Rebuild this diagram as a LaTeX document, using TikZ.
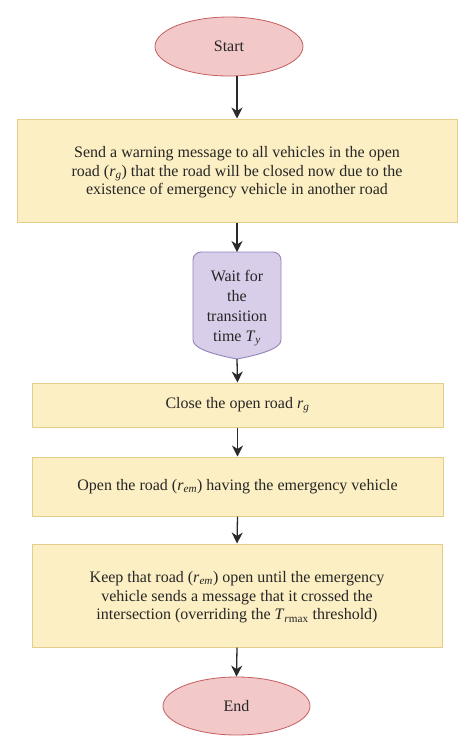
\documentclass[tikz,border=0pt]{standalone}
\usepackage{fontspec}
\setmainfont{Liberation Serif}
\usetikzlibrary{shapes.geometric,arrows.meta}
\definecolor{boxfill}{HTML}{FCEFC3}
\definecolor{boxdraw}{HTML}{E4CE8C}
\definecolor{ellfill}{HTML}{F2C8C8}
\definecolor{elldraw}{HTML}{C45F5E}
\definecolor{lavfill}{HTML}{D9CEEA}
\definecolor{lavdraw}{HTML}{9384BC}
\definecolor{txt}{HTML}{262626}
\definecolor{arrc}{HTML}{2A2A2A}
\newcommand\itsub[2]{\textit{#1}\textsubscript{\textit{#2}}}
\tikzset{
  every node/.style={text=txt, font=\fontsize{16pt}{18.7pt}\selectfont, align=center},
  term/.style={ellipse, draw=elldraw, fill=ellfill, line width=0.8pt, inner sep=0pt},
  procbox/.style={rectangle, draw=boxdraw, fill=boxfill, line width=1pt, inner sep=0pt},
  arr/.style={draw=arrc, line width=1.3pt, -{Stealth[length=11pt,width=11pt,inset=3.5pt]}},
}
\begin{document}
\begin{tikzpicture}[x=1pt,y=1pt]
\useasboundingbox[fill=white] (0,0) rectangle (474,-753);
\node[term, minimum width=148pt, minimum height=59pt] (start) at (229,-46.5) {Start};
\node[procbox, minimum width=440pt, minimum height=103pt, text depth=-2pt] (b1) at (237,-170.5)
  {Send a warning message to all vehicles in the open\\
   road (\itsub{r}{g}) that the road will be closed now due to the\\
   existence of emergency vehicle in another road};
\draw[lavdraw, fill=lavfill, line width=0.9pt]
  (193,-340) -- (193,-260) arc[start angle=180,end angle=90,radius=8] -- (273,-252)
  arc[start angle=90,end angle=0,radius=8] -- (281,-340)
  .. controls (281,-349) and (258,-355) .. (237,-359)
  .. controls (216,-355) and (193,-349) .. (193,-340) -- cycle;
\node[font=\fontsize{16pt}{19.8pt}\selectfont] (wait) at (237,-308.5) {Wait for\\the\\transition\\time \itsub{T}{y}};
\coordinate (waittop) at (237,-252);
\coordinate (waitbot) at (237,-359);
\node[procbox, minimum width=411pt, minimum height=44pt] (close) at (237.5,-405)
  {Close the open road \itsub{r}{g}};
\node[procbox, minimum width=411pt, minimum height=59pt] (open) at (237.5,-486.5)
  {Open the road (\itsub{r}{em}) having the emergency vehicle};
\node[procbox, minimum width=410pt, minimum height=103pt, text depth=-2pt] (keep) at (237,-595.5)
  {Keep that road (\itsub{r}{em}) open until the emergency\\
   vehicle sends a message that it crossed the\\
   intersection (overriding the \textit{T}\textsubscript{\textit{r}max} threshold)};
\node[term, minimum width=147pt, minimum height=58pt] (end) at (236.5,-706) {End};
\draw[arr] (b1.north |- start.south) -- (b1.north);
\draw[arr] (b1.south) -- (waittop);
\draw[arr] (waitbot) -- (close.north);
\draw[arr] (close.south) -- (open.north);
\draw[arr] (open.south) -- (keep.north);
\draw[arr] (keep.south) -- (end.north);
\end{tikzpicture}
\end{document}
